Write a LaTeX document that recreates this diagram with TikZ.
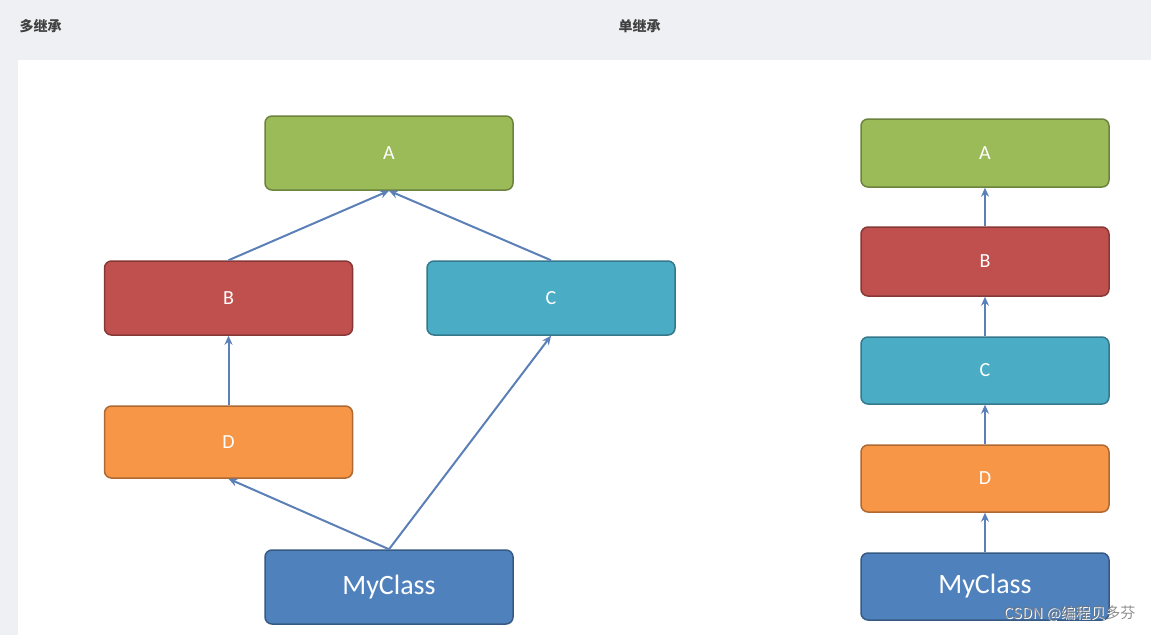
\documentclass[tikz,border=0pt]{standalone}
\usepackage{fontspec}
\setmainfont{Carlito}
\newfontfamily\cjk{Noto Sans CJK SC}
\usetikzlibrary{arrows.meta}
\definecolor{bgc}{HTML}{EFF0F3}
\definecolor{arr}{HTML}{5B80B8}
\begin{document}
\begin{tikzpicture}[x=1pt,y=-1pt,
  box/.style={draw, line width=1.5pt, rounded corners=7pt, inner sep=0pt, font=\fontsize{20}{24}\selectfont, text=white},
  ga/.style={box, fill=#1!100, draw=#1!70!black},
  link/.style={draw=arr, line width=2pt, -{Stealth[length=9pt,width=8pt]}},
  hd/.style={font=\cjk\bfseries\fontsize{14}{16}\selectfont, text=black!75, anchor=west}]
\useasboundingbox (0,0) rectangle (1151,635);
\fill[bgc] (0,0) rectangle (1151,635);
\fill[white] (18,60) rectangle (1151,635);
\node[hd] (h1) at (16,26) {多继承};
\node[hd] (h2) at (615,26) {单继承};
\definecolor{cg}{HTML}{9BBB59}\definecolor{cr}{HTML}{C0504D}\definecolor{ct}{HTML}{4BACC6}\definecolor{co}{HTML}{F79646}\definecolor{cb}{HTML}{4F81BD}
\tikzset{w/.style={minimum width=248pt}}
% left
\node[ga=cg,w,minimum height=74pt] (A) at (389,153) {A};
\node[ga=cr,w,minimum height=74pt] (B) at (228.5,298) {B};
\node[ga=ct,w,minimum height=74pt] (C) at (551,298) {C};
\node[ga=co,w,minimum height=72pt] (D) at (228.5,442) {D};
\node[ga=cb,w,minimum height=74pt,font=\fontsize{28}{32}\selectfont] (M) at (389,587) {MyClass};
\draw[link] (B.north) -- (A.south);
\draw[link] (C.north) -- (A.south);
\draw[link] (D.north) -- (B.south);
\draw[link] (M.north) -- (D.south);
\draw[link] (M.north) -- (C.south);
% right
\node[ga=cg,w,minimum height=68pt] (A2) at (985,153) {A};
\node[ga=cr,w,minimum height=69pt] (B2) at (985,261.5) {B};
\node[ga=ct,w,minimum height=67pt] (C2) at (985,370.5) {C};
\node[ga=co,w,minimum height=67pt] (D2) at (985,478.5) {D};
\node[ga=cb,w,minimum height=67pt,font=\fontsize{28}{32}\selectfont] (M2) at (985,586.5) {MyClass};
\draw[link] (B2.north) -- (A2.south);
\draw[link] (C2.north) -- (B2.south);
\draw[link] (D2.north) -- (C2.south);
\draw[link] (M2.north) -- (D2.south);
\node[font=\cjk\fontsize{15}{17}\selectfont, text=white, anchor=east] (wm) at (1140,614) {CSDN @编程贝多芬};
\node[font=\cjk\fontsize{15}{17}\selectfont, text=black!55, anchor=east, opacity=0.8] (wm2) at (1139,613) {CSDN @编程贝多芬};
\end{tikzpicture}
\end{document}
